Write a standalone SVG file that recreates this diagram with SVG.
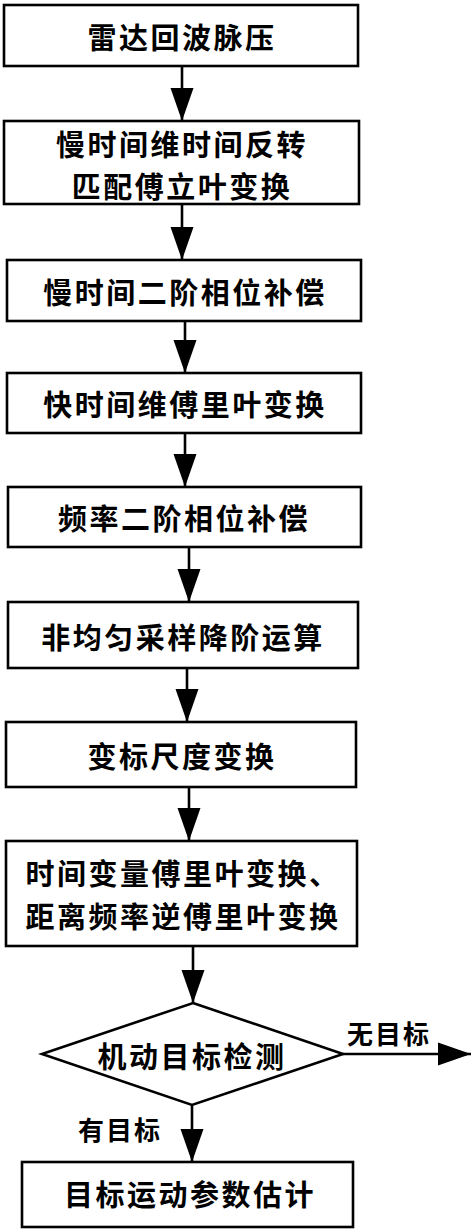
<svg xmlns="http://www.w3.org/2000/svg" width="474" height="1231" viewBox="0 0 474 1231">
<defs>
<marker id="ah" markerUnits="userSpaceOnUse" markerWidth="34" markerHeight="24" refX="33" refY="12" orient="auto">
<path d="M0,0.5 L33,12 L0,23.5 Z" fill="#000"/>
</marker>
<style>
.box{fill:#fff;stroke:#000;stroke-width:2.6}
.t{font-family:"Noto Sans CJK SC","Noto Sans CJK JP",sans-serif;font-size:29px;font-weight:bold;letter-spacing:2.5px;text-anchor:middle;dominant-baseline:central;fill:#000}
.lbl{font-family:"Noto Sans CJK SC","Noto Sans CJK JP",sans-serif;font-size:26px;font-weight:bold;letter-spacing:2px;text-anchor:middle;dominant-baseline:central;fill:#000}
.c{stroke:#000;stroke-width:2.6;fill:none;marker-end:url(#ah)}
</style>
</defs>
<rect width="474" height="1231" fill="#fff"/>
<g id="connectors">
<line class="c" x1="182" y1="66" x2="182" y2="121"/>
<line class="c" x1="182" y1="204" x2="182" y2="260"/>
<line class="c" x1="185" y1="321" x2="185" y2="373"/>
<line class="c" x1="185" y1="433" x2="185" y2="487"/>
<line class="c" x1="189" y1="547" x2="189" y2="602"/>
<line class="c" x1="187" y1="668" x2="187" y2="722"/>
<line class="c" x1="189" y1="787" x2="189" y2="841"/>
<line class="c" x1="193" y1="946" x2="193" y2="1003"/>
<line class="c" x1="192" y1="1105" x2="192" y2="1162"/>
<line class="c" x1="343" y1="1054" x2="471" y2="1054"/>
<text class="lbl" x="389" y="1032">无目标</text>
<text class="lbl" x="120" y="1128">有目标</text>
</g>
<g id="n1"><rect class="box" x="4" y="5" width="354" height="61"/><text class="t" x="182" y="36">雷达回波脉压</text></g>
<g id="n2"><rect class="box" x="4" y="121" width="355" height="83"/><text class="t" x="182" y="143">慢时间维时间反转</text><text class="t" x="182" y="185">匹配傅立叶变换</text></g>
<g id="n3"><rect class="box" x="7" y="260" width="354" height="61"/><text class="t" x="185" y="291">慢时间二阶相位补偿</text></g>
<g id="n4"><rect class="box" x="7" y="373" width="354" height="60"/><text class="t" x="185" y="403">快时间维傅里叶变换</text></g>
<g id="n5"><rect class="box" x="8" y="487" width="353" height="60"/><text class="t" x="184" y="517">频率二阶相位补偿</text></g>
<g id="n6"><rect class="box" x="8" y="602" width="350" height="66"/><text class="t" x="183" y="636">非均匀采样降阶运算</text></g>
<g id="n7"><rect class="box" x="6" y="722" width="350" height="65"/><text class="t" x="182" y="755">变标尺度变换</text></g>
<g id="n8"><rect class="box" x="6" y="841" width="351" height="105"/><text class="t" x="183" y="872">时间变量傅里叶变换、</text><text class="t" x="183" y="915">距离频率逆傅里叶变换</text></g>
<g id="n9"><polygon class="box" points="193,1003 343,1054 192,1105 42,1054"/><text class="t" x="192" y="1055">机动目标检测</text></g>
<g id="n10"><rect class="box" x="22" y="1162" width="331" height="65"/><text class="t" x="190" y="1193">目标运动参数估计</text></g>
</svg>
